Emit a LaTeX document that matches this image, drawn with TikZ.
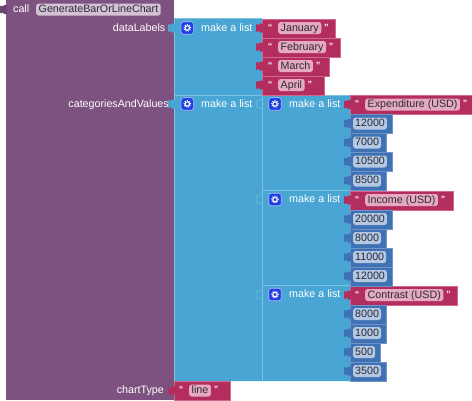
\documentclass[tikz,border=0pt]{standalone}
\usepackage{fontspec}
\setmainfont{Liberation Sans}
\usepackage{xcolor}
\usetikzlibrary{positioning, calc}
\definecolor{procpurple}{HTML}{7D5280}
\definecolor{procfield}{HTML}{D3C2D4}
\definecolor{listblue}{HTML}{49A6D4}
\definecolor{listedge}{HTML}{7FC3E3}
\definecolor{textred}{HTML}{B32D5E}
\definecolor{textedge}{HTML}{D1688F}
\definecolor{textfield}{HTML}{E6A9C2}
\definecolor{numblue}{HTML}{3F71B5}
\definecolor{numedge}{HTML}{6F93C8}
\definecolor{numlight}{HTML}{B4C8E4}
\definecolor{gearblue}{HTML}{1F3FE6}
\definecolor{fieldtext}{HTML}{2B2B35}

\newcommand{\tabshape}[3]{% colour, x of block edge, y centre
  \fill[#1, rounded corners=0.7pt] (#2+1,#3-4.5) -- (#2-2.5,#3-4.5) -- (#2-2.5,#3-3)
    -- (#2-6,#3-4) -- (#2-6,#3+4) -- (#2-2.5,#3+3) -- (#2-2.5,#3+4.5) -- (#2+1,#3+4.5) -- cycle;
}

\begin{document}
\begin{tikzpicture}[
    x=1pt, y=-1pt,
    every node/.style={font=\fontsize{10.7}{12}\selectfont},
    lbl/.style={text=white, inner sep=0pt, text height=8pt, text depth=2pt},
    blockbox/.style={anchor=north west, inner sep=0pt, minimum height=19pt},
    strbox/.style={blockbox, fill=textred, draw=textedge, line width=0.4pt},
    numbox/.style={blockbox, fill=numblue, draw=numedge, line width=0.4pt},
    strfield/.style={fill=textfield, text=fieldtext, rounded corners=2.5pt,
                     inner xsep=2.5pt, inner ysep=1pt, text height=8pt, text depth=2pt, anchor=west},
    numfield/.style={fill=numlight, text=fieldtext, rounded corners=2.5pt,
                     inner xsep=2pt, inner ysep=1pt, text height=8pt, text depth=2pt, anchor=west},
    quote/.style={text=white, inner sep=0pt, font=\fontsize{9}{9}\bfseries\selectfont},
    gearbox/.style={fill=gearblue, draw=white!65!gearblue, rounded corners=2.5pt,
                    minimum size=12.5pt, inner sep=0pt, line width=0.6pt}
  ]
    \useasboundingbox (0,0) rectangle (472,400);

    % procedure call
    \fill[procpurple] (6,0) rectangle (174,399.5);
    \tabshape{procpurple!85!black}{6}{9.5}
    \node[lbl, anchor=west] (call) at (13,9.5) {call};
    \node[strfield, fill=procfield] (procname) at (36,9.5) {GenerateBarOrLineChart};
    \node[lbl, anchor=east] (datalbl) at (165.5,28) {dataLabels};
    \node[lbl, anchor=east] (catlbl) at (169,104) {categoriesAndValues};
    \node[lbl, anchor=east] (typelbl) at (164,390.5) {chartType};

    % make a list blocks
    \fill[listblue] (174,18.5) rectangle (262,95) (174,95) rectangle (350,381);
    \draw[listedge, line width=0.5pt] (174,18.5) -- (262,18.5) (174,18.5) -- (174,381)
      (174,95) -- (350,95) (262,95) -- (262,381) (262,190) -- (350,190)
      (262,285) -- (350,285);
    \tabshape{listblue}{174}{28}
    \tabshape{listblue}{174}{104}

    \foreach \gname/\xx/\yy in {ga/187.3/28, gb/187.3/104, gc/275/104, gd/275/199.5, ge/275/294.5} {
      \node[gearbox] (\gname) at (\xx,\yy) {};
      \draw[white, line width=1.1pt] (\xx,\yy) circle (2.2pt);
      \draw[white, line width=0.9pt, dash pattern=on 1.1pt off 1.2pt] (\xx,\yy) circle (3.4pt);
    }
    \foreach \mname/\xx/\yy in {ma/201/28, mb/201/104, mc/289/104, md/289/199.5, me/289/294.5} {
      \node[lbl, anchor=west] (\mname) at (\xx,\yy) {make a list};
    }
    % empty sockets on the inner lists
    \foreach \yy in {104,199.5,294.5} {
      \draw[listedge, line width=0.4pt, rounded corners=0.7pt] (262,\yy-4.5) -- (259.5,\yy-4.5)
        -- (259.5,\yy-3) -- (256.5,\yy-4) -- (256.5,\yy+4) -- (259.5,\yy+3) -- (259.5,\yy+4.5) -- (262,\yy+4.5);
    }

    % text blocks
    \foreach \sname/\xx/\yy/\bw/\fx/\txt in {
        sjan/262/18.5/73/278/January, sfeb/262/37.5/78/278/February,
        smar/262/56.5/67/278/March, sapr/262/75.5/62/278/April,
        sexp/350/95/122/365/Expenditure (USD), sinc/350/190.5/103/365/Income (USD),
        scon/350/285.5/107/365/Contrast (USD), slin/174/381/56/189/line} {
      \node[strbox, minimum width=\bw pt] (\sname) at (\xx,\yy) {};
      \tabshape{textred}{\xx}{\yy+9.5}
      \node[strfield] (\sname f) at (\fx,\yy+9.5) {\txt};
      \node[quote] at (\fx-8,\yy+8.5) {“};
      \node[quote, right=2.5pt of \sname f.east, yshift=1pt] {”};
    }

    % number blocks
    \foreach \nname/\yy/\bw/\txt in {
        na/114/42/12000, nb/133/36/7000, nc/152/42/10500, nd/171/36/8500,
        ne/209.5/42/20000, nf/228.5/36/8000, ng/247.5/42/11000, nh/266.5/42/12000,
        ni/304.5/36/8000, nj/323.5/36/1000, nk/342.5/30/500, nl/361.5/36/3500} {
      \node[numbox, minimum width=\bw pt] (\nname) at (350,\yy) {};
      \tabshape{numblue}{350}{\yy+9.5}
      \node[numfield] (\nname f) at (353,\yy+9.5) {\txt};
    }
  \end{tikzpicture}
\end{document}
